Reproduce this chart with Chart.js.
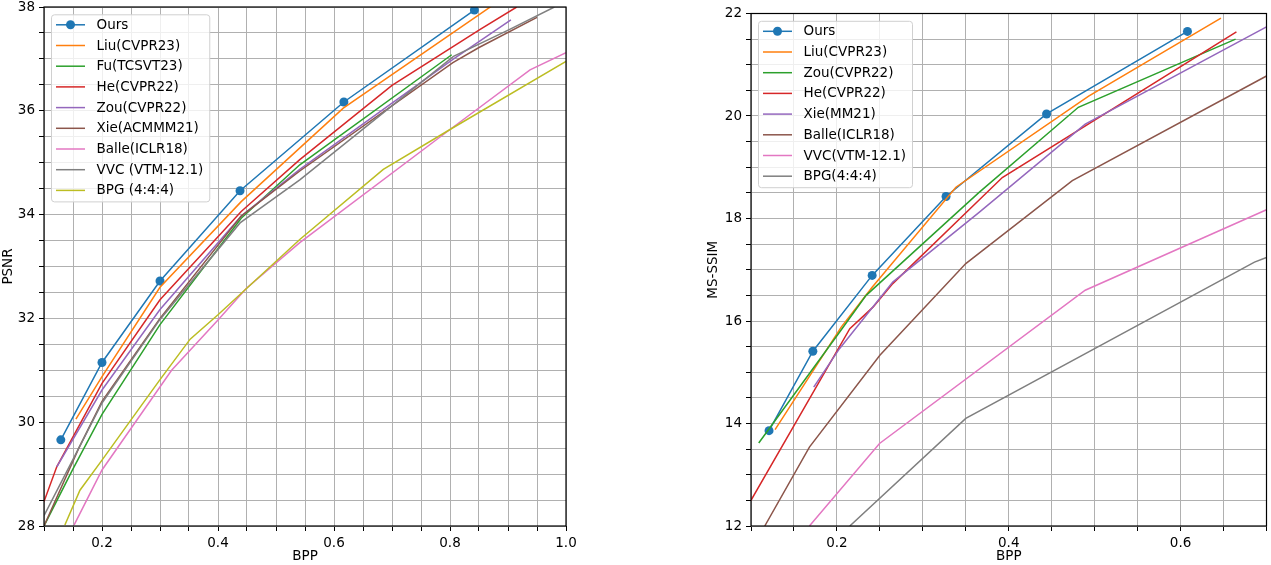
<!DOCTYPE html>
<html>
<head>
<meta charset="utf-8">
<script src="https://cdn.jsdelivr.net/npm/chart.js@4"></script>
<style>
  html, body { margin: 0; padding: 0; background: #fff; }
  body { width: 1271px; height: 565px; position: relative; overflow: hidden; }
  #psnrWrap { position: absolute; left: 0; top: 0; width: 600px; height: 565px; }
  #ssimWrap { position: absolute; left: 705px; top: 0; width: 566px; height: 565px; }
</style>
</head>
<body>
<div id="psnrWrap"><canvas id="psnrChart" width="600" height="565"></canvas></div>
<div id="ssimWrap"><canvas id="ssimChart" width="566" height="565"></canvas></div>
<script>
   // Left panel: PSNR vs BPP ==========================================
   const psnrLabels = ['Ours', 'Liu(CVPR23)', 'Fu(TCSVT23)', 'He(CVPR22)', 'Zou(CVPR22)',
                       'Xie(ACMMM21)', 'Balle(ICLR18)', 'VVC (VTM-12.1)', 'BPG (4:4:4)'];

   const oursBppP = [0.129, 0.2, 0.3, 0.438, 0.617, 0.842];
   const oursPsnr = [29.66, 31.15, 32.72, 34.46, 36.17, 37.94];
   const liuBppP  = [0.155, 0.2, 0.3, 0.44, 0.616, 0.885];
   const liuPsnr  = [30.06, 30.88, 32.6, 34.25, 36.05, 38.12];
   const fuBpp    = [0.1, 0.15, 0.2, 0.3, 0.44, 0.541, 0.803];
   const fuPsnr   = [28.0, 29.1, 30.15, 31.88, 33.93, 34.96, 37.08];
   const heBppP   = [0.1, 0.122, 0.2, 0.3, 0.44, 0.541, 0.7, 0.852, 0.915];
   const hePsnr   = [28.47, 29.14, 30.75, 32.36, 34.06, 35.06, 36.49, 37.57, 38.0];
   const zouBppP  = [0.122, 0.2, 0.3, 0.44, 0.541, 0.805, 0.905];
   const zouPsnr  = [29.14, 30.62, 32.17, 33.97, 34.87, 36.99, 37.75];
   const xieBppP  = [0.1, 0.16, 0.2, 0.3, 0.44, 0.541, 0.805, 0.85, 0.95];
   const xiePsnr  = [28.0, 29.5, 30.4, 32.0, 33.97, 34.84, 36.93, 37.22, 37.8];
   const balleBppP = [0.152, 0.2, 0.32, 0.4, 0.449, 0.541, 0.8, 0.938, 1.0];
   const ballePsnr = [28.02, 29.08, 31.0, 31.97, 32.58, 33.46, 35.64, 36.79, 37.12];
   const vvcBppP  = [0.1, 0.16, 0.2, 0.3, 0.438, 0.541, 0.806, 0.903, 0.98];
   const vvcPsnr  = [28.2, 29.5, 30.37, 31.98, 33.84, 34.67, 37.05, 37.57, 38.0];
   const bpgBppP  = [0.136, 0.162, 0.2, 0.3, 0.352, 0.4, 0.541, 0.685, 0.8, 1.0];
   const bpgPsnr  = [28.02, 28.69, 29.27, 30.82, 31.6, 32.07, 33.52, 34.87, 35.64, 36.95];

   // Right panel: MS-SSIM (dB) vs BPP ==================================
   const ssimLabels = ['Ours', 'Liu(CVPR23)', 'Zou(CVPR22)', 'He(CVPR22)', 'Xie(MM21)',
                       'Balle(ICLR18)', 'VVC(VTM-12.1)', 'BPG(4:4:4)'];

   const oursBppS = [0.121, 0.172, 0.241, 0.327, 0.444, 0.608];
   const oursSsim = [13.86, 15.41, 16.89, 18.43, 20.04, 21.65];
   const liuBppS  = [0.128, 0.205, 0.241, 0.3385, 0.493, 0.647];
   const liuSsim  = [13.88, 15.88, 16.66, 18.61, 20.39, 21.91];
   const zouBppS  = [0.109, 0.203, 0.234, 0.3655, 0.481, 0.664];
   const zouSsim  = [13.62, 15.78, 16.5, 18.51, 20.17, 21.5];
   const heBppS   = [0.1, 0.215, 0.242, 0.265, 0.3925, 0.665];
   const heSsim   = [12.5, 15.85, 16.27, 16.73, 18.8, 21.64];
   const xieBppS  = [0.173, 0.203, 0.265, 0.3655, 0.489, 0.7];
   const xieSsim  = [14.71, 15.46, 16.76, 18.12, 19.84, 21.74];
   const balleBppS = [0.116, 0.168, 0.25, 0.35, 0.474, 0.7];
   const balleSsim = [12.0, 13.54, 15.33, 17.12, 18.74, 20.78];
   const vvcBppS  = [0.168, 0.2496, 0.489, 0.7];
   const vvcSsim  = [12.0, 13.61, 16.6, 18.17];
   const bpgBppS  = [0.215, 0.35, 0.686, 0.7];
   const bpgSsim  = [12.0, 14.1, 17.15, 17.24];

   // matplotlib tab10 colours
   const tab10 = ['#1f77b4', '#ff7f0e', '#2ca02c', '#d62728', '#9467bd',
                  '#8c564b', '#e377c2', '#7f7f7f', '#bcbd22'];
   const FONT = '"DejaVu Sans", sans-serif';

   const pts = (xs, ys) => xs.map((x, i) => ({ x: x, y: ys[i] }));

   // legend box + axes frame drawn the matplotlib way
   const mplLegend = {
       id: 'mplLegend',
       afterDraw(chart) {
           const { ctx, chartArea } = chart;
           const sets = chart.data.datasets;
           const rowH = 20.7;
           ctx.save();
           ctx.font = '13.5px ' + FONT;
           const textW = Math.max(...sets.map(d => ctx.measureText(d.label).width));
           const left = chartArea.left + 7.5;
           const top = chartArea.top + 7.8;
           const w = 4.5 + 29 + 11.5 + textW + 6.5;
           const h = 10 + rowH * (sets.length - 1) + 11.5;

           ctx.beginPath();
           ctx.roundRect(left, top, w, h, 3);
           ctx.fillStyle = 'rgba(255,255,255,0.8)';
           ctx.fill();
           ctx.strokeStyle = '#d0d0d0';
           ctx.lineWidth = 1;
           ctx.stroke();

           sets.forEach((d, i) => {
               const y = top + 10 + i * rowH;
               const x0 = left + 4.5;
               ctx.strokeStyle = d.borderColor;
               ctx.lineWidth = 1.5;
               ctx.beginPath();
               ctx.moveTo(x0, y);
               ctx.lineTo(x0 + 29, y);
               ctx.stroke();
               if (d.pointRadius > 0) {
                   ctx.fillStyle = d.borderColor;
                   ctx.beginPath();
                   ctx.arc(x0 + 14.5, y, d.pointRadius, 0, Math.PI * 2);
                   ctx.fill();
               }
               ctx.fillStyle = '#000';
               ctx.textBaseline = 'middle';
               ctx.textAlign = 'left';
               ctx.fillText(d.label, x0 + 29 + 11.5, y + 0.5);
           });

           // frame (all four spines)
           ctx.strokeStyle = '#000';
           ctx.lineWidth = 1.2;
           ctx.strokeRect(chartArea.left, chartArea.top,
                          chartArea.right - chartArea.left, chartArea.bottom - chartArea.top);
           ctx.restore();
       }
   };

   function makeChart(canvasId, labels, series, cfg) {
       const n = series.length;
       const datasets = series.map((s, i) => ({
           label: labels[i],
           data: s,
           borderColor: tab10[i],
           backgroundColor: tab10[i],
           borderWidth: 1.5,
           pointRadius: i === 0 ? 4.5 : 0,
           pointHoverRadius: i === 0 ? 4.5 : 0,
           pointBorderWidth: 0,
           tension: 0,
           fill: false,
           order: n - i
       }));

       return new Chart(document.getElementById(canvasId).getContext('2d'), {
           type: 'line',
           data: { datasets: datasets },
           plugins: [mplLegend],
           options: {
               responsive: false,
               animation: false,
               layout: { padding: { top: cfg.padTop, right: cfg.padRight, left: 0, bottom: 0 } },
               plugins: {
                   legend: { display: false },
                   tooltip: { enabled: false }
               },
               scales: {
                   x: {
                       type: 'linear',
                       min: 0.1,
                       max: cfg.xMax,
                       border: { display: false },
                       grid: { color: '#b0b0b0', lineWidth: 1, tickColor: '#000', tickLength: 5 },
                       ticks: {
                           stepSize: 0.05,
                           autoSkip: false,
                           maxRotation: 0,
                           padding: 4,
                           color: '#000',
                           font: { family: FONT, size: 13.5 },
                           callback: v => Math.abs(v * 5 - Math.round(v * 5)) < 1e-6 ? v.toFixed(1) : ''
                       },
                       title: {
                           display: true,
                           text: 'BPP',
                           color: '#000',
                           font: { family: FONT, size: 13.5 },
                           padding: { top: 0, bottom: 0 }
                       },
                       afterFit: s => { s.height = 39; s.paddingLeft = 0; s.paddingRight = 0; }
                   },
                   y: {
                       type: 'linear',
                       min: cfg.yMin,
                       max: cfg.yMax,
                       border: { display: false },
                       grid: { color: '#b0b0b0', lineWidth: 1, tickColor: '#000', tickLength: 5 },
                       ticks: {
                           stepSize: 0.5,
                           autoSkip: false,
                           padding: 4,
                           color: '#000',
                           font: { family: FONT, size: 13.5 },
                           callback: v => (Math.abs(v - Math.round(v)) < 1e-6 && Math.round(v) % 2 === 0) ? String(Math.round(v)) : ''
                       },
                       title: {
                           display: true,
                           text: cfg.yTitle,
                           color: '#000',
                           font: { family: FONT, size: 13.5 },
                           padding: { top: 0, bottom: 0 }
                       },
                       afterFit: s => { s.width = cfg.yWidth; s.paddingTop = 0; s.paddingBottom = 0; }
                   }
               }
           }
       });
   }

   makeChart('psnrChart', psnrLabels, [
       pts(oursBppP, oursPsnr), pts(liuBppP, liuPsnr), pts(fuBpp, fuPsnr),
       pts(heBppP, hePsnr), pts(zouBppP, zouPsnr), pts(xieBppP, xiePsnr),
       pts(balleBppP, ballePsnr), pts(vvcBppP, vvcPsnr), pts(bpgBppP, bpgPsnr)
   ], { xMax: 1.0, yMin: 28, yMax: 38, yTitle: 'PSNR', padTop: 7, padRight: 34, yWidth: 44 });

   makeChart('ssimChart', ssimLabels, [
       pts(oursBppS, oursSsim), pts(liuBppS, liuSsim), pts(zouBppS, zouSsim),
       pts(heBppS, heSsim), pts(xieBppS, xieSsim), pts(balleBppS, balleSsim),
       pts(vvcBppS, vvcSsim), pts(bpgBppS, bpgSsim)
   ], { xMax: 0.7, yMin: 12, yMax: 22, yTitle: 'MS-SSIM', padTop: 13.5, padRight: 3, yWidth: 46 });
</script>
</body>
</html>
